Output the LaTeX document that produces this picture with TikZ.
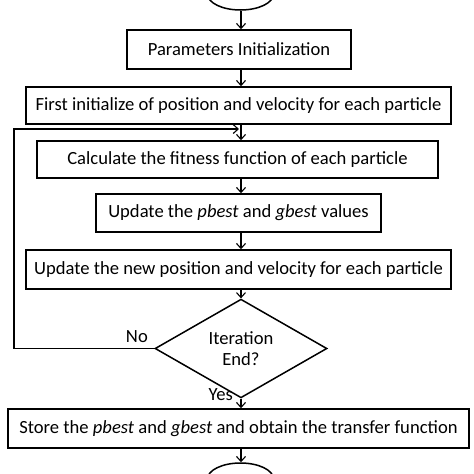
\documentclass[tikz,border=0pt]{standalone}
\usepackage{fontspec}
\setmainfont{Carlito}
\usetikzlibrary{arrows.meta,shapes.geometric}
\begin{document}
\begin{tikzpicture}[x=1pt,y=-1pt,
  box/.style={draw,line width=1.5pt,inner sep=0pt,font=\fontsize{18.6}{21}\selectfont},
  term/.style={draw,ellipse,line width=1.5pt,minimum width=66pt,minimum height=32pt,inner sep=0pt},
  decision/.style={draw,diamond,line width=1.5pt,inner sep=0pt,minimum width=172pt,minimum height=81pt,align=center,font=\fontsize{18.6}{21}\selectfont},
  lbl/.style={font=\fontsize{18.6}{21}\selectfont,inner sep=0pt},
  arr/.style={-{Straight Barb[length=5pt,width=9pt,line width=1.1pt]},line width=1.1pt}]
\useasboundingbox (0,0) rectangle (474,474);
\node[term] (start) at (240.5,-6) {};
\node[box,minimum width=224pt,minimum height=39pt] (b1) at (239,49.5) {Parameters Initialization};
\node[box,minimum width=425pt,minimum height=37pt] (b2) at (238.5,105.5) {First initialize of position and velocity for each particle};
\node[box,minimum width=401pt,minimum height=37pt] (b3) at (237.5,159.5) {Calculate the fitness function of each particle};
\node[box,minimum width=285pt,minimum height=38pt] (b4) at (238.5,213) {Update the \textit{pbest} and \textit{gbest} values};
\node[box,minimum width=425pt,minimum height=39pt] (b5) at (238.5,269.5) {Update the new position and velocity for each particle};
\node[decision] (dec) at (241,348.5) {Iteration\\End?};
\node[box,minimum width=461pt,minimum height=39pt] (b6) at (238.5,428.5) {Store the \textit{pbest} and \textit{gbest} and obtain the transfer function};
\node[term] (stop) at (240.5,479) {};
\coordinate (ax) at (241,0);
\coordinate (corner) at (14,129);
\coordinate (join) at (239,129);
\draw[arr] (start.south -| ax) -- (b1.north -| ax);
\draw[arr] (b1.south -| ax) -- (b2.north -| ax);
\draw[arr] (b2.south -| ax) -- (b3.north -| ax);
\draw[arr] (b3.south -| ax) -- (b4.north -| ax);
\draw[arr] (b4.south -| ax) -- (b5.north -| ax);
\draw[arr] (b5.south -| ax) -- (dec.north);
\draw[arr] (dec.south) -- (b6.north -| ax);
\draw[arr] (b6.south -| ax) -- (stop.north -| ax);
\draw[arr] (dec.west) -| (corner) -- (join);
\node[lbl,anchor=east] (no) at (148,337) {No};
\node[lbl,anchor=east] (yes) at (233,395) {Yes};
\end{tikzpicture}
\end{document}
